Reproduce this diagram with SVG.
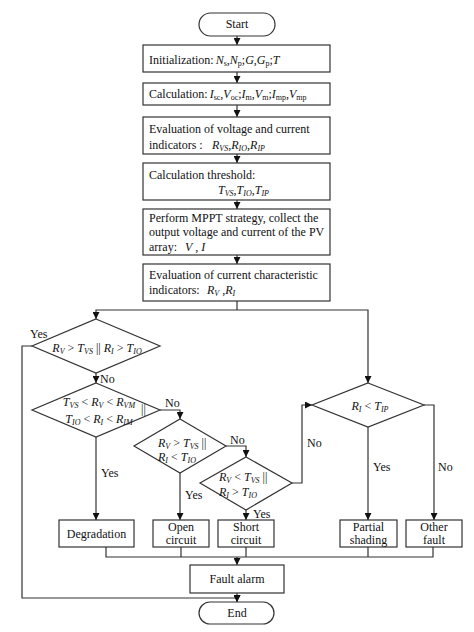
<svg xmlns="http://www.w3.org/2000/svg" width="474" height="632" viewBox="0 0 474 632" font-family="'Liberation Serif', 'DejaVu Serif', serif" font-size="12">
<style>
.b{fill:#fff;stroke:#333;stroke-width:1.2}
.c{fill:none;stroke:#333;stroke-width:1.2}
text{font-family:'Liberation Serif', 'DejaVu Serif', serif;font-size:12px;fill:#111}
.m{text-anchor:middle}
.i{font-style:italic}
.s{font-size:8px}
</style>
<defs>
<marker id="ar" viewBox="0 0 10 10" refX="10" refY="5" markerWidth="7" markerHeight="7" markerUnits="userSpaceOnUse" orient="auto"><path d="M0,0 L10,5 L0,10 z" fill="#111"/></marker>
</defs>
<rect width="474" height="632" fill="#fff"/>
<g id="connectors" class="c" marker-end="url(#ar)">
<path d="M237,36 V45"/>
<path d="M237,72 V83"/>
<path d="M237,105 V117"/>
<path d="M237,154 V163"/>
<path d="M237,200 V209"/>
<path d="M237,255 V264"/>
<path d="M237,301 V310" marker-end="none"/>
<path d="M237,310 H96 V319"/>
<path d="M237,310 H368 V383"/>
<path d="M32,346 H22 V598 H237 V602"/>
<path d="M96,373 V383"/>
<path d="M96,437 V520"/>
<path d="M160,410 H180 V419"/>
<path d="M180,473 V520"/>
<path d="M226,446 H246 V457"/>
<path d="M246,510 V520"/>
<path d="M292,483 H302 V405 H312"/>
<path d="M368,427 V520"/>
<path d="M424,405 H434 V520"/>
<path d="M106,547 V557 H433 V547" marker-end="none"/>
<path d="M181,547 V557 M246,547 V557 M368,547 V557" marker-end="none"/>
<path d="M237,557 V565"/>
<path d="M237,593 V602"/>
</g>
<g id="labels">
<text x="30" y="338">Yes</text>
<text x="100" y="383">No</text>
<text x="165" y="407">No</text>
<text x="101" y="477">Yes</text>
<text x="230" y="444">No</text>
<text x="185" y="499">Yes</text>
<text x="253" y="518">Yes</text>
<text x="307" y="447">No</text>
<text x="373" y="471">Yes</text>
<text x="438" y="471">No</text>
</g>
<g id="start">
<rect class="b" x="199" y="13" width="76" height="23" rx="11.5"/>
<text class="m" x="237" y="28">Start</text>
</g>
<g id="init">
<rect class="b" x="143" y="45" width="187" height="27"/>
<text x="149" y="64">Initialization:<tspan class="i" dx="2">N</tspan><tspan class="s" dy="2">s</tspan><tspan dy="-2">,</tspan><tspan class="i">N</tspan><tspan class="s" dy="2">p</tspan><tspan dy="-2">;</tspan><tspan class="i">G</tspan>,<tspan class="i">G</tspan><tspan class="s" dy="2">p</tspan><tspan dy="-2">;</tspan><tspan class="i">T</tspan></text>
</g>
<g id="calc">
<rect class="b" x="143" y="83" width="187" height="22"/>
<text x="149" y="98">Calculation:<tspan class="i" dx="2">I</tspan><tspan class="s" dy="2">sc</tspan><tspan dy="-2">,</tspan><tspan class="i">V</tspan><tspan class="s" dy="2">oc</tspan><tspan dy="-2">;</tspan><tspan class="i">I</tspan><tspan class="s" dy="2">m</tspan><tspan dy="-2">,</tspan><tspan class="i">V</tspan><tspan class="s" dy="2">m</tspan><tspan dy="-2">;</tspan><tspan class="i">I</tspan><tspan class="s" dy="2">mp</tspan><tspan dy="-2">,</tspan><tspan class="i">V</tspan><tspan class="s" dy="2">mp</tspan></text>
</g>
<g id="eval-indicators">
<rect class="b" x="143" y="117" width="187" height="37"/>
<text x="149" y="133">Evaluation of voltage and current</text>
<text x="149" y="149">indicators :<tspan class="i" x="212">R</tspan><tspan class="s i" dy="2">VS</tspan><tspan dy="-2">,</tspan><tspan class="i">R</tspan><tspan class="s i" dy="2">IO</tspan><tspan dy="-2">,</tspan><tspan class="i">R</tspan><tspan class="s i" dy="2">IP</tspan></text>
</g>
<g id="threshold">
<rect class="b" x="143" y="163" width="187" height="37"/>
<text x="149" y="179">Calculation threshold:</text>
<text x="218" y="194"><tspan class="i">T</tspan><tspan class="s i" dy="2">VS</tspan><tspan dy="-2">,</tspan><tspan class="i">T</tspan><tspan class="s i" dy="2">IO</tspan><tspan dy="-2">,</tspan><tspan class="i">T</tspan><tspan class="s i" dy="2">IP</tspan></text>
</g>
<g id="mppt">
<rect class="b" x="143" y="209" width="187" height="46"/>
<text x="149" y="222">Perform MPPT strategy,  collect the</text>
<text x="149" y="236">output voltage and current of the PV</text>
<text x="149" y="251">array:<tspan class="i" x="185">V</tspan> , <tspan class="i">I</tspan></text>
</g>
<g id="eval-current">
<rect class="b" x="143" y="264" width="187" height="37"/>
<text x="149" y="279">Evaluation of current characteristic</text>
<text x="149" y="294">indicators:<tspan class="i" x="207">R</tspan><tspan class="s i" dy="2">V</tspan><tspan dy="-2"> ,</tspan><tspan class="i">R</tspan><tspan class="s i" dy="2">I</tspan></text>
</g>
<g id="d1">
<polygon class="b" points="96,319 160,346 96,373 32,346"/>
<text class="m" x="97" y="352"><tspan class="i">R</tspan><tspan class="s i" dy="2">V</tspan><tspan dy="-2"> &gt; </tspan><tspan class="i">T</tspan><tspan class="s i" dy="2">VS</tspan><tspan dy="-2"> || </tspan><tspan class="i">R</tspan><tspan class="s i" dy="2">I</tspan><tspan dy="-2"> &gt; </tspan><tspan class="i">T</tspan><tspan class="s i" dy="2">IO</tspan></text>
</g>
<g id="d2">
<polygon class="b" points="96,383 160,410 96,437 32,410"/>
<text class="m" x="99" y="406"><tspan class="i">T</tspan><tspan class="s i" dy="2">VS</tspan><tspan dy="-2"> &lt; </tspan><tspan class="i">R</tspan><tspan class="s i" dy="2">V</tspan><tspan dy="-2"> &lt; </tspan><tspan class="i">R</tspan><tspan class="s i" dy="2">VM</tspan></text>
<text x="141" y="413">||</text>
<text class="m" x="99" y="423"><tspan class="i">T</tspan><tspan class="s i" dy="2">IO</tspan><tspan dy="-2"> &lt; </tspan><tspan class="i">R</tspan><tspan class="s i" dy="2">I</tspan><tspan dy="-2"> &lt; </tspan><tspan class="i">R</tspan><tspan class="s i" dy="2">IM</tspan></text>
</g>
<g id="d3">
<polygon class="b" points="180,419 226,446 180,473 134,446"/>
<text x="158" y="447"><tspan class="i">R</tspan><tspan class="s i" dy="2">V</tspan><tspan dy="-2"> &gt; </tspan><tspan class="i">T</tspan><tspan class="s i" dy="2">VS</tspan><tspan dy="-2"> ||</tspan></text>
<text x="158" y="461"><tspan class="i">R</tspan><tspan class="s i" dy="2">I</tspan><tspan dy="-2"> &lt; </tspan><tspan class="i">T</tspan><tspan class="s i" dy="2">IO</tspan></text>
</g>
<g id="d4">
<polygon class="b" points="246,457 292,483 246,510 200,483"/>
<text x="219" y="481"><tspan class="i">R</tspan><tspan class="s i" dy="2">V</tspan><tspan dy="-2"> &lt; </tspan><tspan class="i">T</tspan><tspan class="s i" dy="2">VS</tspan><tspan dy="-2"> ||</tspan></text>
<text x="219" y="496"><tspan class="i">R</tspan><tspan class="s i" dy="2">I</tspan><tspan dy="-2"> &gt; </tspan><tspan class="i">T</tspan><tspan class="s i" dy="2">IO</tspan></text>
</g>
<g id="d5">
<polygon class="b" points="368,383 424,405 368,427 312,405"/>
<text class="m" x="370" y="410"><tspan class="i">R</tspan><tspan class="s i" dy="2">I</tspan><tspan dy="-2"> &lt; </tspan><tspan class="i">T</tspan><tspan class="s i" dy="2">IP</tspan></text>
</g>
<g id="degradation">
<rect class="b" x="59" y="520" width="75" height="27"/>
<text class="m" x="96.5" y="538">Degradation</text>
</g>
<g id="open-circuit">
<rect class="b" x="153" y="520" width="56" height="27"/>
<text class="m" x="181" y="531">Open</text>
<text class="m" x="181" y="544">circuit</text>
</g>
<g id="short-circuit">
<rect class="b" x="218" y="520" width="56" height="27"/>
<text class="m" x="246" y="531">Short</text>
<text class="m" x="246" y="544">circuit</text>
</g>
<g id="partial-shading">
<rect class="b" x="340" y="520" width="57" height="27"/>
<text class="m" x="368.5" y="531">Partial</text>
<text class="m" x="368.5" y="544">shading</text>
</g>
<g id="other-fault">
<rect class="b" x="406" y="520" width="56" height="27"/>
<text class="m" x="434" y="531">Other</text>
<text class="m" x="434" y="544">fault</text>
</g>
<g id="fault-alarm">
<rect class="b" x="190" y="565" width="94" height="28"/>
<text class="m" x="237" y="583">Fault alarm</text>
</g>
<g id="end">
<rect class="b" x="199" y="602" width="75" height="22" rx="11"/>
<text class="m" x="237" y="617">End</text>
</g>
</svg>
